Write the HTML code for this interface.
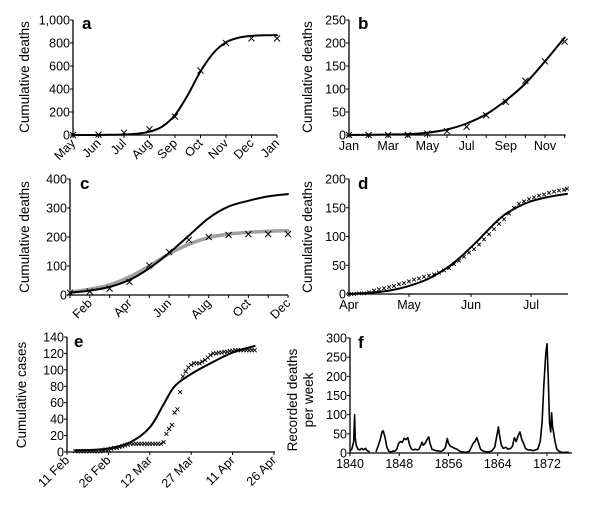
<!DOCTYPE html>
<html><head><meta charset="utf-8"><style>
html,body{margin:0;padding:0;background:#fff;}
svg{display:block;font-family:"Liberation Sans",Arial,sans-serif;}
</style></head><body>
<svg id="fig" width="600" height="509" viewBox="0 0 600 509"></svg>
<script>
// ---------- data ----------
const aMonths=["May","Jun","Jul","Aug","Sep","Oct","Nov","Dec","Jan"];
const aYTicks=[0,200,400,600,800,1000];
const aYLabels=["0","200","400","600","800","1,000"];
const aObs=[0,3,20,50,160,560,800,840,840];
const aFit=[0,0,0.6,1.6,4.3,11,29,74,174,348,553,712,806,846,862,867,869];

const bMonths=["Jan","","Mar","","May","","Jul","","Sep","","Nov",""];
const bYTicks=[0,50,100,150,200,250];
const bObs=[0,0,0,0,3,8,18,43,72,118,160,203];
const bFit=[0,0.5,1,2,5,12,25,45,75,112,160,212];

const cMonths=["","Feb","","Apr","","Jun","","Aug","","Oct","","Dec"];
const cYTicks=[0,100,200,300,400];
const cObs=[8,12,22,45,102,148,190,200,207,210,210,210];
const cFitBlack=[8,15,28,52,92,145,205,265,305,325,340,348];
const cFitGrey=[10,20,35,62,100,142,175,198,210,216,220,222];

const dMonths=["Apr","May","Jun","Jul"];
const dMonthDays=[0,30,61,91];
const dYTicks=[0,50,100,150,200];
const dDays=[0,2.5,5,7.5,10,12.5,15,17.5,20,22.5,25,27.5,30,32.5,35,37.5,40,42.5,45,47.5,50,52.5,55,57.5,60,62.5,65,67.5,70,72.5,75,77.5,80,82.5,85,87.5,90,92.5,95,97.5,100,102.5,105,107.5,109];
const dObs=[0,0,1,1,3,6,8,10,12,14,17,19,22,25,27,30,32,34,37,41,45,52,58,65,72,78,86,95,104,113,122,130,140,150,157,161,165,168,171,173,176,178,180,181,183];
const dFitDays=[0,10,20,30,40,50,55,60,65,70,75,80,90,100,109];
const dFit=[0,2,6,14,27,48,62,78,95,113,130,143,160,169,174];

const eLabels=["11 Feb","26 Feb","12 Mar","27 Mar","11 Apr","26 Apr"];
const eYTicks=[0,20,40,60,80,100,120,140];
const eDays=[3,4,5,6,7,8,9,10,11,12,13,14,15,16,17,18,19,20,21,22,23,24,25,26,27,28,29,30,31,32,33,34,35,36,37,38,39,40,41,42,43,44,45,46,47,48,49,50,51,52,53,54,55,56,57,58,59,60,61,62,63,64,65,66,67,68];
const eObs=[1,1,1,1,1,1,1,1,1,1,2,3,3,4,5,5,6,7,8,9,10,10,10,10,10,10,10,10,10,10,10,10,12,22,28,33,48,52,73,92,98,103,106,108,108,108,110,112,115,118,120,120,121,121,122,122,123,123,124,124,124,124,124,124,124,124];
const eFitDays=[3,14.5,23,30,35,39,45,52,60,68];
const eFit=[2,4,12,30,58,80,95,108,121,129];

const fTickYears=[1840,1848,1856,1864,1872];
const fYTicks=[0,50,100,150,200,250,300];
const fYears=[1840.0,1840.3,1840.6,1840.75,1840.85,1841.0,1841.3,1841.6,1841.9,1842.2,1842.5,1842.8,1843.2,null,1844.2,1844.5,1844.9,1845.2,1845.4,1845.7,1846.0,1846.3,1846.6,1847.0,1847.3,1847.6,1847.9,1848.2,1848.5,1848.8,1849.1,1849.4,1849.7,1850.0,1850.3,1850.6,1850.9,1851.2,1851.5,1851.7,1851.9,1852.2,1852.5,1852.8,1853.0,1853.3,1853.6,1854.0,1854.4,1854.8,1855.2,1855.5,1855.8,1856.0,1856.3,1856.7,1857.0,1857.4,1857.8,1858.2,1858.6,1859.0,1859.4,1859.7,1860.0,1860.3,1860.6,1860.9,1861.2,1861.6,1862.0,1862.5,1863.0,1863.5,1863.8,1864.1,1864.3,1864.6,1864.9,1865.3,1865.7,1866.1,1866.4,1866.7,1867.0,1867.3,1867.6,1867.9,1868.2,1868.5,1868.9,1869.3,1869.7,1870.1,1870.5,1870.9,1871.2,1871.5,1871.8,1872.0,1872.2,1872.4,1872.6,1872.75,1872.9,1873.1,1873.3,1873.6,1873.9,1874.3,1874.7,1875.1,1875.6];
const fVals=[5,10,30,100,40,20,10,8,12,8,12,6,3,null,3,15,35,55,58,40,15,5,3,5,5,10,25,30,28,38,35,40,20,10,8,10,8,10,20,28,20,25,35,42,25,10,8,6,5,4,8,15,38,25,18,15,12,10,5,3,2,2,5,15,25,30,40,25,10,5,4,3,5,15,40,68,45,20,12,15,10,12,18,40,30,45,55,35,25,12,8,8,6,8,10,30,80,180,260,285,200,80,55,105,70,50,30,10,5,2,1,2,1];

// ---------- helpers ----------
const NS="http://www.w3.org/2000/svg";
const svg=document.getElementById('fig');
function el(tag,attrs,parent){const e=document.createElementNS(NS,tag);for(const k in attrs)e.setAttribute(k,attrs[k]);(parent||svg).appendChild(e);return e;}
function grp(name){const g=el('g',{});


return g;}
function lin(d0,d1,r0,r1){return v=>r0+(v-d0)/(d1-d0)*(r1-r0);}
function smoothPath(pts){
 if(pts.length<2)return '';
 let d=`M${pts[0][0].toFixed(1)},${pts[0][1].toFixed(1)}`;
 for(let i=0;i<pts.length-1;i++){
  const p0=pts[Math.max(0,i-1)],p1=pts[i],p2=pts[i+1],p3=pts[Math.min(pts.length-1,i+2)];
  const c1=[p1[0]+(p2[0]-p0[0])/6,p1[1]+(p2[1]-p0[1])/6];
  const c2=[p2[0]-(p3[0]-p1[0])/6,p2[1]-(p3[1]-p1[1])/6];
  d+=`C${c1[0].toFixed(1)},${c1[1].toFixed(1)} ${c2[0].toFixed(1)},${c2[1].toFixed(1)} ${p2[0].toFixed(1)},${p2[1].toFixed(1)}`;
 }
 return d;}
function axes(g,x0,x1,y0,y1,yTicks,yLabels,ySc){
 el('line',{x1:x0,y1:y0,x2:x1,y2:y0,stroke:'#000','stroke-width':1.3},g);
 el('line',{x1:x0,y1:y0,x2:x0,y2:y1,stroke:'#000','stroke-width':1.3},g);
 yTicks.forEach((t,i)=>{const y=ySc(t);
  el('line',{x1:x0-3,y1:y,x2:x0,y2:y,stroke:'#000','stroke-width':1},g);
  const tx=el('text',{x:x0-3,y:y+4.5,'text-anchor':'end','font-size':12.5},g);
  tx.textContent=yLabels?yLabels[i]:String(t);
  
  
 });}
function xTick(g,x,y0,label,rot){
 el('line',{x1:x,y1:y0,x2:x,y2:y0+3,stroke:'#000','stroke-width':1},g);
 if(!label)return;
 let tx;
 if(rot){tx=el('text',{x:x+3,y:y0+9,'text-anchor':'end','font-size':12.5,transform:`rotate(-45 ${x+3} ${y0+9})`},g);}
 else{tx=el('text',{x:x,y:y0+15,'text-anchor':'middle','font-size':12.5},g);}
 tx.textContent=label;
 
 }
function yTitle(g,x,y,txt){const t=el('text',{x:x,y:y,'text-anchor':'middle','font-size':13.5,transform:`rotate(-90 ${x} ${y})`},g);t.textContent=txt;
 
 }
function panelLetter(g,x,y,l){const t=el('text',{x:x,y:y,'font-size':17,'font-weight':'bold'},g);t.textContent=l;
 
 }
function cross(g,x,y,s,sw){const p=el('path',{d:`M${x-s},${y-s}L${x+s},${y+s}M${x-s},${y+s}L${x+s},${y-s}`,stroke:'#000','stroke-width':sw||1,fill:'none'},g);
 
 }
function curve(g,pts,color,w,name){const p=el('path',{d:smoothPath(pts),stroke:color,'stroke-width':w,fill:'none','stroke-linecap':'round'},g);
 
 }

// ---------- panel a ----------
(function(){const g=grp('panel-a');
 const X0=73,X1=277,Y0=135,Y1=20;
 const xs=lin(0,aMonths.length-1,X0,X1), ys=lin(0,1000,Y0,Y1);
 axes(g,X0,X1,Y0,Y1,aYTicks,aYLabels,ys);
 aMonths.forEach((m,i)=>xTick(g,xs(i),Y0,m,true));
 curve(g,aFit.map((v,i)=>[xs(i*0.5),ys(v)]),'#000',2,'fit-curve');
 aObs.forEach((v,i)=>cross(g,xs(i),ys(v),3));
 yTitle(g,29,77,'Cumulative deaths'); panelLetter(g,82,29,'a');
})();
// ---------- panel b ----------
(function(){const g=grp('panel-b');
 const X0=349,Y0=135,Y1=20,step=19.6;
 const xs=lin(0,1,X0,X0+step), ys=lin(0,250,Y0,Y1);
 axes(g,X0,X0+11*step+1,Y0,Y1,bYTicks,null,ys);
 bMonths.forEach((m,i)=>xTick(g,xs(i),Y0,m,false));
 curve(g,bFit.map((v,i)=>[xs(i),ys(v)]),'#000',2,'fit-curve');
 bObs.forEach((v,i)=>cross(g,xs(i),ys(v),3));
 yTitle(g,312,77,'Cumulative deaths'); panelLetter(g,358,29,'b');
})();
// ---------- panel c ----------
(function(){const g=grp('panel-c');
 const X0=70,X1=288,Y0=295,Y1=179;
 const xs=lin(0,11,X0,X1), ys=lin(0,400,Y0,Y1);
 axes(g,X0,X1,Y0,Y1,cYTicks,null,ys);
 cMonths.forEach((m,i)=>xTick(g,xs(i),Y0,m,true));
 curve(g,cFitGrey.map((v,i)=>[xs(i),ys(v)]),'#a0a0a0',3.5,'fit-curve-grey');
 curve(g,cFitBlack.map((v,i)=>[xs(i),ys(v)]),'#000',2,'fit-curve-black');
 cObs.forEach((v,i)=>cross(g,xs(i),ys(v),3));
 yTitle(g,29,237,'Cumulative deaths'); panelLetter(g,80,189,'c');
})();
// ---------- panel d ----------
(function(){const g=grp('panel-d');
 const X0=349,Y0=294,Y1=179;
 const xs=lin(0,91,X0,531), ys=lin(0,200,Y0,Y1);
 axes(g,X0,568,Y0,Y1,dYTicks,null,ys);
 dMonths.forEach((m,i)=>xTick(g,xs(dMonthDays[i]),Y0,m,false));
 dObs.forEach((v,i)=>cross(g,xs(dDays[i]),ys(v),1.8,0.9));
 curve(g,dFitDays.map((d,i)=>[xs(d),ys(dFit[i])]),'#000',2,'fit-curve');
 yTitle(g,312,237,'Cumulative deaths'); panelLetter(g,358,189,'d');
})();
// ---------- panel e ----------
(function(){const g=grp('panel-e');
 const X0=67,Y0=452,Y1=337;
 const xs=lin(0,75,X0,274), ys=lin(0,140,Y0,Y1);
 axes(g,X0,275,Y0,Y1,eYTicks,null,ys);
 eLabels.forEach((m,i)=>xTick(g,xs(i*15),Y0,m,true));
 eObs.forEach((v,i)=>cross(g,xs(eDays[i]),ys(v),2,0.9));
 curve(g,eFitDays.map((d,i)=>[xs(d),ys(eFit[i])]),'#000',2,'fit-curve');
 yTitle(g,26,395,'Cumulative cases'); panelLetter(g,74,347,'e');
})();
// ---------- panel f ----------
(function(){const g=grp('panel-f');
 const X0=350,Y0=453,Y1=338;
 const xs=lin(1840,1872,X0,547), ys=lin(0,300,Y0,Y1);
 axes(g,X0,572,Y0,Y1,fYTicks,null,ys);
 fTickYears.forEach(y=>xTick(g,xs(y),Y0,String(y),false));
 let d='',pen=false;
 fYears.forEach((yr,i)=>{if(yr===null){pen=false;return;}
  d+=(pen?'L':'M')+xs(yr).toFixed(1)+','+ys(fVals[i]).toFixed(1);pen=true;});
 const p=el('path',{d:d,stroke:'#000','stroke-width':1.6,fill:'none','stroke-linejoin':'round'},g);
 
 
 yTitle(g,297,400,'Recorded deaths'); yTitle(g,313,400,'per week'); panelLetter(g,358,348,'f');
})();
</script>
</body></html>
